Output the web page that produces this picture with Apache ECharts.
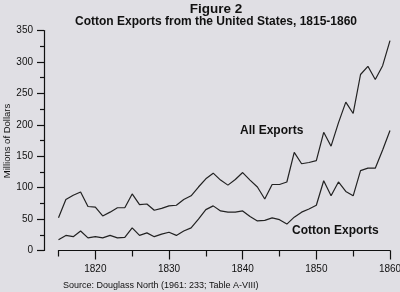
<!DOCTYPE html>
<html>
<head>
<meta charset="utf-8">
<script src="https://cdn.jsdelivr.net/npm/echarts@6/dist/echarts.min.js"></script>
<style>
  html, body { margin: 0; padding: 0; background: #e0dfe4; }
  #chart { width: 400px; height: 292px; }
</style>
</head>
<body>
<div id="chart"></div>
<script>
// years 1815-1860
const years = [
  1815, 1816, 1817, 1818, 1819, 1820, 1821, 1822, 1823, 1824,
  1825, 1826, 1827, 1828, 1829, 1830, 1831, 1832, 1833, 1834,
  1835, 1836, 1837, 1838, 1839, 1840, 1841, 1842, 1843, 1844,
  1845, 1846, 1847, 1848, 1849, 1850, 1851, 1852, 1853, 1854,
  1855, 1856, 1857, 1858, 1859, 1860
]
// millions of dollars
const allExports = [
  52, 81, 88, 93, 70, 69, 55, 61, 68, 68,
  90, 73, 74, 64, 67, 71, 72, 81, 87, 101,
  114, 123, 112, 104, 113, 124, 112, 101, 82, 105,
  105, 109, 156, 138, 140, 143, 188, 166, 203, 236,
  218, 280, 293, 272, 294, 334
]
const cottonExports = [
  17, 24, 22, 31, 20, 22, 20, 24, 20, 21,
  36, 24, 28, 22, 26, 29, 24, 31, 36, 50,
  65, 71, 63, 61, 61, 63, 54, 47, 48, 52,
  49, 42, 53, 61, 66, 72, 111, 87, 109, 94,
  87, 127, 131, 131, 160, 191
]
const decadeTicks = [1820, 1830, 1840, 1850, 1860]
const halfTicks = [1815, 1825, 1835, 1845, 1855]

const myChart = echarts.init(document.getElementById('chart'))
const font = 'Liberation Sans, Arial, sans-serif'
const ink = '#111'

const toPairs = (vals) => years.map((y, i) => [y, vals[i]])

const option = {
  backgroundColor: '#e0dfe4',
  animation: false,
  textStyle: { fontFamily: font },
  title: [{
    text: 'Figure 2',
    left: 216,
    top: 2,
    textAlign: 'center',
    padding: 0,
    textStyle: { fontSize: 13.5, fontWeight: 'bold', color: ink, fontFamily: font }
  }, {
    text: 'Cotton Exports from the United States, 1815-1860',
    left: 216,
    top: 15.5,
    textAlign: 'center',
    padding: 0,
    textStyle: { fontSize: 12, fontWeight: 'bold', color: ink, fontFamily: font }
  }],
  grid: {
    left: 58.5,
    right: 10,
    top: 30.5,
    bottom: 41.5,
    containLabel: false,
    outerBoundsMode: 'none'
  },
  xAxis: [{
    type: 'value',
    min: 1815,
    max: 1860,
    splitLine: { show: false },
    axisLine: { lineStyle: { color: ink, width: 1.2 } },
    axisTick: { length: 9, customValues: decadeTicks, lineStyle: { color: ink, width: 1.2 } },
    axisLabel: {
      customValues: decadeTicks,
      formatter: (v) => String(v),
      margin: 14,
      fontSize: 10,
      color: ink,
      fontFamily: font
    }
  }, {
    type: 'value',
    min: 1815,
    max: 1860,
    position: 'bottom',
    splitLine: { show: false },
    axisLine: { show: false },
    axisTick: { length: 6, customValues: halfTicks, lineStyle: { color: ink, width: 1.2 } },
    axisLabel: { show: false }
  }],
  yAxis: {
    type: 'value',
    min: 0,
    max: 350,
    interval: 50,
    offset: 14.5,
    splitLine: { show: false },
    axisLine: { show: true, lineStyle: { color: ink, width: 1.2 } },
    axisTick: { show: true, length: 7, lineStyle: { color: ink, width: 1.2 } },
    minorTick: { show: true, splitNumber: 2, length: 4, lineStyle: { color: ink, width: 1.2 } },
    axisLabel: { margin: 11, fontSize: 10, color: ink, fontFamily: font }
  },
  graphic: [{
    // y axis title
    type: 'text',
    x: 7,
    y: 141,
    rotation: Math.PI / 2,
    style: {
      text: 'Millions of Dollars',
      font: '9.5px ' + font,
      fill: ink,
      align: 'center',
      verticalAlign: 'middle'
    }
  }, {
    type: 'text',
    left: 240,
    top: 125,
    style: { text: 'All Exports', font: 'bold 12px ' + font, fill: ink }
  }, {
    type: 'text',
    left: 292,
    top: 225,
    style: { text: 'Cotton Exports', font: 'bold 12px ' + font, fill: ink }
  }, {
    type: 'text',
    left: 63,
    top: 281,
    style: { text: 'Source: Douglass North (1961: 233; Table A-VIII)', font: '9px ' + font, fill: ink }
  }],
  series: [{
    name: 'All Exports',
    type: 'line',
    showSymbol: false,
    lineStyle: { color: '#222', width: 1.2 },
    data: toPairs(allExports)
  }, {
    name: 'Cotton Exports',
    type: 'line',
    showSymbol: false,
    lineStyle: { color: '#222', width: 1.2 },
    data: toPairs(cottonExports)
  }]
}
myChart.setOption(option)
</script>
</body>
</html>
